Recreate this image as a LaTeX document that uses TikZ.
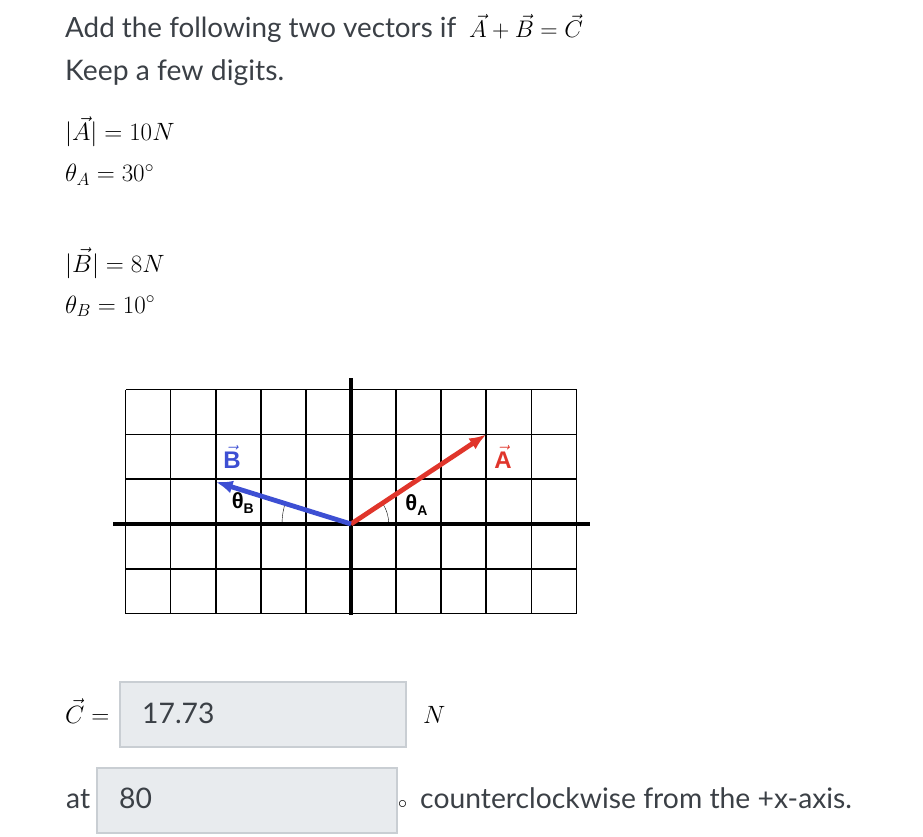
\documentclass[tikz,border=0pt]{standalone}
\usepackage{fix-cm}
\usepackage{amsmath}
\usepackage[no-math]{fontspec}
\setmainfont{Lato}
\newfontfamily\figfont{Liberation Sans}
\usetikzlibrary{arrows.meta,calc}
\definecolor{textgray}{HTML}{3B4046}
\definecolor{boxfill}{HTML}{E8EBEE}
\definecolor{boxline}{HTML}{C9CED3}
\definecolor{vecred}{HTML}{E0352B}
\definecolor{vecblue}{HTML}{3D4FD3}
\newcommand{\qsize}{\fontsize{28.3}{33}\selectfont}
\newcommand{\msize}{\fontsize{25}{29}\selectfont}
\newcommand{\lblsize}{\fontsize{24}{27}\selectfont}
\newcommand{\thsize}{\fontsize{22}{24}\selectfont}
\newcommand{\subsize}{\fontsize{14}{14}\selectfont}

\begin{document}
\begin{tikzpicture}[x=1pt,y=-1pt,
  qtext/.style={anchor=base west,inner sep=0pt,text=textgray,font=\qsize},
  mtext/.style={anchor=base west,inner sep=0pt,font=\msize},
  answerbox/.style={draw=boxline,fill=boxfill,line width=1.5pt,anchor=north west,inner sep=0pt},
  vector/.style={line width=4.8pt,-{Latex[length=17pt,width=13pt]}}]
\useasboundingbox (0,0) rectangle (923,837);

% question text
\node[qtext,font=\fontsize{27.8}{33}\selectfont] (title) at (65,38) {Add the following two vectors if};
\node[mtext,font=\fontsize{24}{28}\selectfont] (sum) at (469,38) {$\vec{A}+\vec{B}=\vec{C}$};
\node[qtext] (digits) at (65,81) {Keep a few digits.};
\node[mtext] (magA) at (65,141) {$|\vec{A}| = 10N$};
\node[mtext] (angA) at (65,182) {$\theta_A = 30^\circ$};
\node[mtext] (magB) at (65,272) {$|\vec{B}| = 8N$};
\node[mtext] (angB) at (65,313) {$\theta_B = 10^\circ$};

% grid, origin at the crossing of the axes
\begin{scope}[shift={(351,524)},x=45.1pt,y=44.8pt]
\foreach \i in {-5,...,5}
  \draw[line width=1.7pt] (\i,-2) -- (\i,3);
\foreach \j in {-2,...,3}
  \draw[line width=1.7pt] (-5,\j) -- (5,\j);
\draw[line width=3.2pt] (-5.27,0) -- (5.3,0);
\draw[line width=3.2pt] (0,-2.03) -- (0,3.25);

\coordinate (O) at (0,0);
\coordinate (Atip) at (3,2);
\coordinate (Btip) at (-3,0.94);

\draw[thin] ($(O)+(37.7pt,0)$) arc[start angle=0,end angle=36,radius=37.7pt];
\draw[thin] ($(O)+(-69pt,0)$) arc[start angle=180,end angle=161,radius=69pt];

\draw[vector,vecred] (O) -- (Atip);
\draw[vector,vecblue] (O) -- (Btip);

\node[text=vecred,font=\lblsize\figfont\bfseries] (Alabel) at (3.37,1.5) {$\vec{\mbox{A}}$};
\node[text=vecblue,font=\lblsize\figfont\bfseries] (Blabel) at (-2.64,1.5) {$\vec{\mbox{B}}$};
\node[font=\figfont\bfseries\thsize] (thA) at (1.45,0.43)
  {θ\raisebox{-5pt}{\subsize A}};
\node[font=\figfont\bfseries\thsize] (thB) at (-2.4,0.47)
  {θ\raisebox{-5pt}{\subsize B}};
\end{scope}

% answers
\node[mtext] (Cvec) at (65,723) {$\vec{C} =$};
\node[answerbox,minimum width=286pt,minimum height=65pt] (magbox) at (119,681) {};
\node[qtext] (magval) at (142,723) {17.73};
\node[mtext] (unitN) at (423,723) {$N$};
\node[qtext] (at) at (66,808) {at};
\node[answerbox,minimum width=300pt,minimum height=65pt] (angbox) at (96,767) {};
\node[qtext] (angval) at (119,808) {80};
\node[mtext,font=\fontsize{18}{20}\selectfont] (deg) at (398,808) {$\circ$};
\node[qtext] (ccw) at (420,808) {counterclockwise from the +x-axis.};
\end{tikzpicture}
\end{document}
